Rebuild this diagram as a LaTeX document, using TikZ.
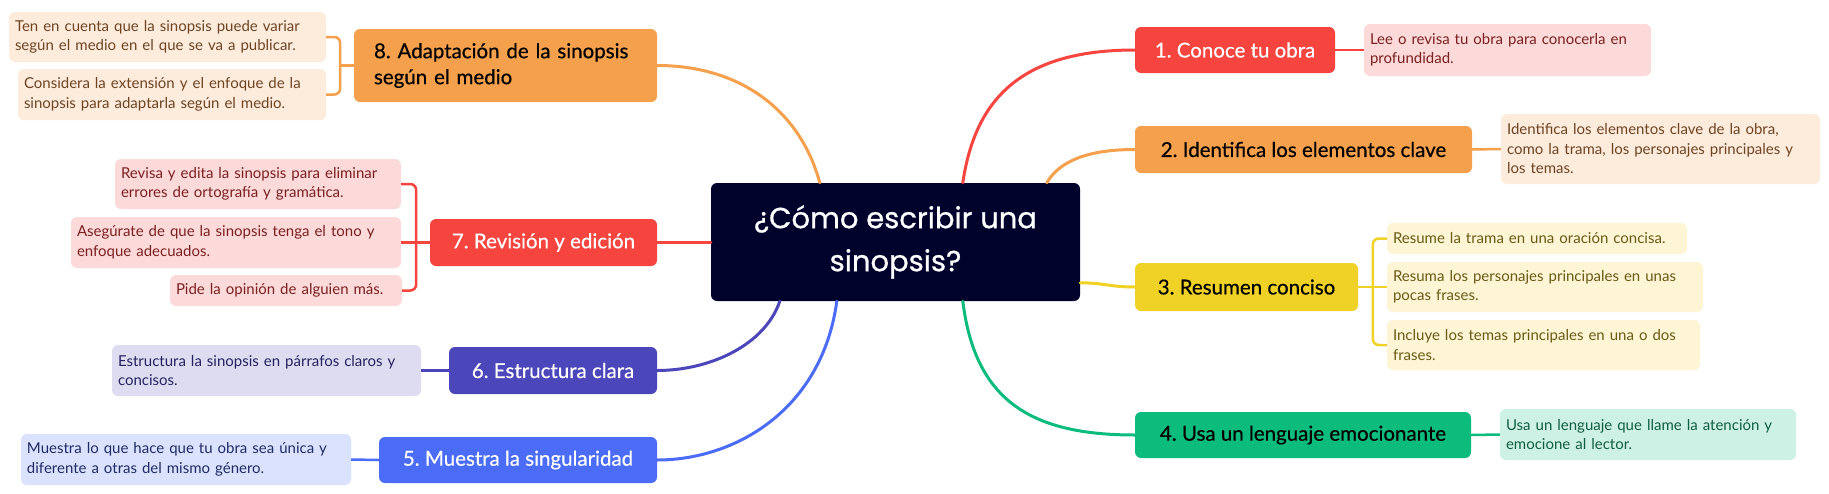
\documentclass[tikz,border=0pt]{standalone}
\usepackage{fontspec}
\setmainfont{Lato}
\newfontfamily\hubfont[FakeBold=0.8]{Poppins}
\newfontfamily\topicfont[FakeBold=0.4]{Lato}
\frenchspacing
\definecolor{cnavy}{HTML}{01022B}
\definecolor{cred}{HTML}{F6443F}
\definecolor{corange}{HTML}{F5A04C}
\definecolor{cyellow}{HTML}{F0D226}
\definecolor{cgreen}{HTML}{0BBC7D}
\definecolor{cblue}{HTML}{4A6CF7}
\definecolor{cpurple}{HTML}{4B46B9}
\definecolor{lred}{HTML}{FDDADA}
\definecolor{lorange}{HTML}{FDEBDC}
\definecolor{lyellow}{HTML}{FDF5D3}
\definecolor{lgreen}{HTML}{CEF1E5}
\definecolor{lblue}{HTML}{DBE2FE}
\definecolor{lpurple}{HTML}{DDDCF1}
\definecolor{tred}{HTML}{7B2020}
\definecolor{torange}{HTML}{6E4423}
\definecolor{tyellow}{HTML}{6A5A17}
\definecolor{tgreen}{HTML}{115E42}
\definecolor{tblue}{HTML}{1F2B66}
\definecolor{tpurple}{HTML}{252360}
\tikzset{
  hub/.style={rounded corners=6pt, fill=cnavy, text=white, inner sep=0pt, align=center,
    font=\hubfont\fontsize{29}{43}\selectfont},
  topic/.style={rounded corners=6pt, inner sep=0pt, align=center,
    font=\topicfont\fontsize{20.5}{26}\selectfont},
  leaf/.style={rounded corners=6pt, inner xsep=6pt, inner ysep=0pt, align=left,
    font=\fontsize{15}{19.5}\selectfont},
  trunk/.style={line width=3pt, line cap=round},
  twig/.style={line width=2.5pt, rounded corners=6pt},
}
\begin{document}
\begin{tikzpicture}[x=1pt, y=-1pt]
\fill[white] (0,0) rectangle (1829,493);
\useasboundingbox (0,0) rectangle (1829,493);

% central node
\node[hub, minimum width=369pt, minimum height=118pt] (c) at (895.5,242) {¿Cómo escribir una\\sinopsis?};

% topics
\node[topic, fill=cred, text=white, minimum width=200pt, minimum height=46pt] (b1) at (1235,50) {1. Conoce tu obra};
\node[topic, fill=corange, text=black, minimum width=337pt, minimum height=47pt] (b2) at (1303.5,149.5) {2. Identifica los elementos clave};
\node[topic, fill=cyellow, text=black, minimum width=223pt, minimum height=48pt] (b3) at (1246.5,287) {3. Resumen conciso};
\node[topic, fill=cgreen, text=black, minimum width=336pt, minimum height=46pt] (b4) at (1303,435) {4. Usa un lenguaje emocionante};
\node[topic, fill=cblue, text=white, minimum width=278pt, minimum height=46pt] (b5) at (518,460) {5. Muestra la singularidad};
\node[topic, fill=cpurple, text=white, minimum width=208pt, minimum height=47pt] (b6) at (553,370.5) {6. Estructura clara};
\node[topic, fill=cred, text=white, minimum width=227pt, minimum height=47pt] (b7) at (543.5,242.5) {7. Revisión y edición};
\node[topic, fill=corange, text=black, minimum width=303pt, minimum height=73pt, inner xsep=20pt, text width=263pt, align=left] (b8) at (505.5,65.5) {8. Adaptación de la sinopsis\\según el medio};

% leaves
\node[leaf, fill=lred, text=tred, minimum width=287pt, minimum height=52pt, text width=275pt] (l1) at (1507.5,50) {Lee o revisa tu obra para conocerla en\\profundidad.};
\node[leaf, fill=lorange, text=torange, minimum width=319pt, minimum height=70pt, text width=307pt] (l2) at (1660.5,149) {Identifica los elementos clave de la obra,\\como la trama, los personajes principales y\\los temas.};
\node[leaf, fill=lyellow, text=tyellow, minimum width=300pt, minimum height=31pt, text width=288pt] (l3a) at (1537,238.5) {Resume la trama en una oración concisa.};
\node[leaf, fill=lyellow, text=tyellow, minimum width=316pt, minimum height=50pt, text width=304pt] (l3b) at (1545,287) {Resuma los personajes principales en unas\\pocas frases.};
\node[leaf, fill=lyellow, text=tyellow, minimum width=313pt, minimum height=50pt, text width=301pt] (l3c) at (1543.5,345) {Incluye los temas principales en una o dos\\frases.};
\node[leaf, fill=lgreen, text=tgreen, minimum width=296pt, minimum height=51pt, text width=284pt] (l4) at (1648,434.5) {Usa un lenguaje que llame la atención y\\emocione al lector.};
\node[leaf, fill=lblue, text=tblue, minimum width=330pt, minimum height=51pt, text width=318pt] (l5) at (186,459.5) {Muestra lo que hace que tu obra sea única y\\diferente a otras del mismo género.};
\node[leaf, fill=lpurple, text=tpurple, minimum width=309pt, minimum height=51pt, text width=297pt] (l6) at (266.5,370.5) {Estructura la sinopsis en párrafos claros y\\concisos.};
\node[leaf, fill=lred, text=tred, minimum width=286pt, minimum height=50pt, text width=274pt] (l7a) at (258,184) {Revisa y edita la sinopsis para eliminar\\errores de ortografía y gramática.};
\node[leaf, fill=lred, text=tred, minimum width=330pt, minimum height=51pt, text width=318pt] (l7b) at (236,242.5) {Asegúrate de que la sinopsis tenga el tono y\\enfoque adecuados.};
\node[leaf, fill=lred, text=tred, minimum width=232pt, minimum height=31pt, text width=220pt] (l7c) at (286,290.5) {Pide la opinión de alguien más.};
\node[leaf, fill=lorange, text=torange, minimum width=317pt, minimum height=50pt, text width=305pt] (l8a) at (167.5,37) {Ten en cuenta que la sinopsis puede variar\\según el medio en el que se va a publicar.};
\node[leaf, fill=lorange, text=torange, minimum width=308pt, minimum height=51pt, text width=296pt] (l8b) at (172,94.5) {Considera la extensión y el enfoque de la\\sinopsis para adaptarla según el medio.};

% start points on the central node
\coordinate (s1) at ([xshift=252pt]c.north west);
\coordinate (s2) at ([xshift=336pt]c.north west);
\coordinate (s3) at ([yshift=-100pt]c.north east);
\coordinate (s4) at ([xshift=252pt]c.south west);
\coordinate (s5) at ([xshift=126pt]c.south west);
\coordinate (s6) at ([xshift=69pt]c.south west);
\coordinate (s8) at ([xshift=109pt]c.north west);

% trunks
\draw[trunk, cred] (s1) .. controls (975,100) and (1020,50) .. (b1.west);
\draw[trunk, corange] (s2) .. controls (1060,160) and (1090,149.5) .. (b2.west);
\draw[trunk, cyellow] (s3) .. controls (1105,283) and (1110,287) .. (b3.west);
\draw[trunk, cgreen] (s4) .. controls (975,400) and (1030,435) .. (b4.west);
\draw[trunk, cblue] (s5) .. controls (822,410) and (735,460) .. (b5.east);
\draw[trunk, cpurple] (s6) .. controls (765,345) and (710,370.5) .. (b6.east);
\draw[trunk, cred] (c.west |- b7.east) -- (b7.east);
\draw[trunk, corange] (s8) .. controls (800,110) and (740,65.5) .. (b8.east);

% twigs
\draw[twig, cred] (b1.east) -- (l1.west);
\draw[twig, corange] (b2.east) -- (l2.west);
\draw[twig, cyellow] (b3.east) -- (l3b.west);
\draw[twig, cyellow] (l3a.west) -- ++(-14,0) |- (l3c.west);
\draw[twig, cgreen] (b4.east) -- (l4.west);
\draw[twig, cblue] (b5.west) -- (l5.east);
\draw[twig, cpurple] (b6.west) -- (l6.east);
\draw[twig, cred] (b7.west) -- (l7b.east);
\draw[twig, cred] (l7a.east) -- ++(15,0) |- (l7c.east);
\draw[twig, corange] (b8.west) -- ++(-14,0);
\draw[twig, corange] (l8a.east) -- ++(14,0) |- (l8b.east);
\end{tikzpicture}
\end{document}
